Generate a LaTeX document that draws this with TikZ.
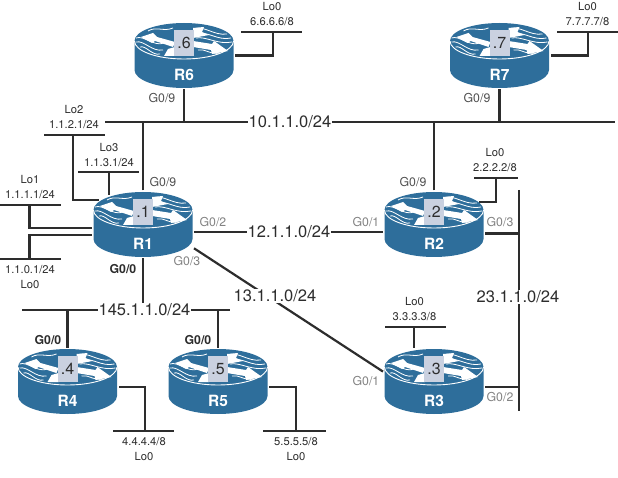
\documentclass[tikz,border=0pt]{standalone}
\usepackage{fontspec}
\setmainfont{TeX Gyre Heros}
\definecolor{routerblue}{RGB}{46,110,155}
\definecolor{addrgray}{RGB}{202,209,224}
\definecolor{linkdark}{RGB}{45,45,45}
\definecolor{portdark}{RGB}{80,80,80}
\definecolor{portlight}{RGB}{130,130,130}

% icon on top of an (invisible) router node
\newcommand{\routericon}[2]{
    \begin{scope}[shift={(#1.north)},yshift=-1.5pt]
    \fill[routerblue] (-49.5,18) -- (-49.5,47) arc[start angle=180,end angle=360,x radius=49.5pt,y radius=18pt] -- (49.5,18) arc[start angle=0,end angle=180,x radius=49.5pt,y radius=18pt] -- cycle;
    \draw[white,line width=0.9pt] (-49.5,18) arc[start angle=180,end angle=360,x radius=49.5pt,y radius=18pt];
    \draw[white,line width=0.8pt] (-36,8) .. controls (-28,3) and (-20,9) .. (-11,5);
    \draw[white,line width=0.8pt] (-48,15) .. controls (-40,12) and (-30,24) .. (-20,20);
    \draw[white,line width=0.8pt] (-48,19) .. controls (-40,17) and (-32,29) .. (-21,27);
    \draw[white,line width=0.8pt] (-44,24) .. controls (-38,22) and (-32,33) .. (-24,31);
    \draw[white,line width=0.8pt] (10,6) .. controls (20,2) and (30,13) .. (43,11);
    \draw[white,line width=0.8pt] (14,11) .. controls (24,8) and (34,18) .. (47,15);
    \draw[white,line width=0.8pt] (12,15) .. controls (22,13) and (34,22) .. (48,19);
    \draw[white,line width=0.8pt] (14,27) .. controls (20,25) and (26,32) .. (36,30);
    \fill[white] (-43,14) -- (-31,10) -- (-27,14) -- (-9,19) -- (-11,24) -- (-29,18) -- (-32,20) -- cycle;
    \fill[white] (-20,33) -- (-16,26) -- (-9,24) -- (-9,33) -- cycle;
    \fill[white] (9,5) -- (20,4) -- (18,9) -- (25,12) -- (9,15) -- cycle;
    \fill[white] (9,18) -- (28,21) -- (30,18) -- (44,28) -- (28,31) -- (27,27) -- (9,24) -- cycle;
    \node[addrbox] (#1addr) at (0,20) {#2};
    \node[routername] (#1name) at (0,52) {#1};
    \end{scope}
}

\begin{document}
\begin{tikzpicture}[x=1pt,y=-1pt,
        main/.style = {inner sep=0pt,outer sep=1.5pt,minimum width=99pt,minimum height=65pt},
        link/.style = {draw=linkdark,line width=2.2pt},
        addrbox/.style = {fill=addrgray,text=linkdark,inner sep=0pt,minimum width=20pt,minimum height=26pt,font=\fontsize{16}{16}\selectfont},
        routername/.style = {text=white,inner sep=0pt,font=\fontsize{15.5}{16}\selectfont\bfseries},
        lolabel/.style = {text=linkdark,align=center,inner sep=0pt,font=\fontsize{11.2}{15}\selectfont},
        buslabel/.style = {text=linkdark,fill=white,inner sep=1pt,font=\fontsize{16.5}{17}\selectfont},
        port/.style = {text=portdark,inner sep=0pt,font=\fontsize{12.3}{12}\selectfont},
        portlight/.style = {text=portlight,inner sep=0pt,font=\fontsize{12.3}{12}\selectfont},
        portbold/.style = {text=linkdark,inner sep=0pt,font=\fontsize{12.3}{12}\selectfont\bfseries}]
    \useasboundingbox (0,0) rectangle (618,478);

    \node[main] (R1) at (143,224.5) {};
    \node[main] (R2) at (434,224.5) {};
    \node[main] (R3) at (434,381.5) {};
    \node[main] (R4) at (67.5,381.5) {};
    \node[main] (R5) at (218,381.5) {};
    \node[main] (R6) at (184,55.5) {};
    \node[main] (R7) at (499.5,55.5) {};

    % shared segments
    \coordinate (busAa) at (105,121.7);
    \coordinate (busAb) at (615,121.7);
    \coordinate (busBa) at (22,310);
    \coordinate (busBb) at (230,310);
    \coordinate (busCa) at (519,190);
    \coordinate (busCb) at (519,411);
    \draw[link] (busAa) -- (busAb);
    \draw[link] (busBa) -- (busBb);
    \draw[link] (busCa) -- (busCb);
    \draw[link] (R6.south) -- (R6.south |- busAa);
    \draw[link] (R7.south) -- (R7.south |- busAa);
    \draw[link] (R1.north) -- (R1.north |- busAa);
    \draw[link] (R2.north) -- (R2.north |- busAa);
    \draw[link] (R1.south) -- (R1.south |- busBa);
    \draw[link] (R4.north) -- (R4.north |- busBa);
    \draw[link] (R5.north) -- (R5.north |- busBa);
    \draw[link] (R1.-8) -- (R1.-8 -| R2.west);
    \draw[link] (R1.-25) -- (R3.169);
    \draw[link] (R2.-10) -- (R2.-10 -| busCa);
    \draw[link] (R3.-6) -- (R3.-6 -| busCa);

    % loopbacks
    \coordinate (loSixa) at (241,32);
    \coordinate (loSixb) at (302,32);
    \coordinate (loSix) at (273,32);
    \draw[link] (loSixa) -- (loSixb);
    \draw[link] (loSix) |- (R6.east);
    \coordinate (loSevena) at (557,32);
    \coordinate (loSevenb) at (618,32);
    \coordinate (loSeven) at (588,32);
    \draw[link] (loSevena) -- (loSevenb);
    \draw[link] (loSeven) |- (R7.east);
    \coordinate (loTwoa) at (474,178);
    \coordinate (loTwob) at (518,178);
    \coordinate (loTwo) at (496,178);
    \draw[link] (loTwoa) -- (loTwob);
    \draw[link] (loTwo) |- ([xshift=-6pt]R2.24);
    \coordinate (loThreea) at (385,327);
    \coordinate (loThreeb) at (446,327);
    \coordinate (loThree) at (414,327);
    \draw[link] (loThreea) -- (loThreeb);
    \draw[link] (loThree) -- (loThree |- R3.north);
    \coordinate (loFoura) at (113,430.7);
    \coordinate (loFourb) at (174,430.7);
    \coordinate (loFour) at (145.3,430.7);
    \draw[link] (loFoura) -- (loFourb);
    \draw[link] (loFour) |- (R4.-6);
    \coordinate (loFivea) at (263,430.7);
    \coordinate (loFiveb) at (326,430.7);
    \coordinate (loFive) at (295.7,430.7);
    \draw[link] (loFivea) -- (loFiveb);
    \draw[link] (loFive) |- (R5.-6);
    \coordinate (rOneLoTwoa) at (44,134.7);
    \coordinate (rOneLoTwob) at (105,134.7);
    \coordinate (rOneLoTwo) at (73,134.7);
    \draw[link] (rOneLoTwoa) -- (rOneLoTwob);
    \draw[link] (rOneLoTwo) |- ([xshift=6.5pt]R1.154);
    \coordinate (rOneLoThreea) at (78,171.7);
    \coordinate (rOneLoThreeb) at (139,171.7);
    \coordinate (rOneLoThree) at (109.3,171.7);
    \draw[link] (rOneLoThreea) -- (rOneLoThreeb);
    \draw[link] (rOneLoThree) -- (rOneLoThree |- R1.150);
    \coordinate (rOneLoOnea) at (0,204.7);
    \coordinate (rOneLoOneb) at (61,204.7);
    \coordinate (rOneLoOne) at (29.5,204.7);
    \draw[link] (rOneLoOnea) -- (rOneLoOneb);
    \draw[link] (rOneLoOne) |- (R1.184);
    \coordinate (rOneLoZeroa) at (0,259);
    \coordinate (rOneLoZerob) at (61,259);
    \coordinate (rOneLoZero) at (29.5,259);
    \draw[link] (rOneLoZeroa) -- (rOneLoZerob);
    \draw[link] (rOneLoZero) |- (R1.192);

    \routericon{R1}{.1}
    \routericon{R2}{.2}
    \routericon{R3}{.3}
    \routericon{R4}{.4}
    \routericon{R5}{.5}
    \routericon{R6}{.6}
    \routericon{R7}{.7}

    \node[buslabel] (netA) at (290,121.7) {10.1.1.0/24};
    \node[buslabel] (netB) at (289,232) {12.1.1.0/24};
    \node[buslabel] (netC) at (275,296) {13.1.1.0/24};
    \node[buslabel] (netD) at (144.5,310) {145.1.1.0/24};
    \node[buslabel] (netE) at (518,297) {23.1.1.0/24};

    \node[lolabel] (txtSix) at (272,14.5) {Lo0\\6.6.6.6/8};
    \node[lolabel] (txtSeven) at (587.5,14.5) {Lo0\\7.7.7.7/8};
    \node[lolabel] (txtTwo) at (495,160.5) {Lo0\\2.2.2.2/8};
    \node[lolabel] (txtThree) at (414.5,309.5) {Lo0\\3.3.3.3/8};
    \node[lolabel] (txtFour) at (144,448.5) {4.4.4.4/8\\Lo0};
    \node[lolabel] (txtFive) at (296,448.5) {5.5.5.5/8\\Lo0};
    \node[lolabel] (txtOneA) at (74,117.5) {Lo2\\1.1.2.1/24};
    \node[lolabel] (txtOneB) at (109,155.5) {Lo3\\1.1.3.1/24};
    \node[lolabel] (txtOneC) at (30,187.5) {Lo1\\1.1.1.1/24};
    \node[lolabel] (txtOneD) at (30,277.5) {1.1.0.1/24\\Lo0};

    \node[port] (pSix) at (162,98) {G0/9};
    \node[port] (pOneA) at (163,182) {G0/9};
    \node[port] (pSeven) at (477,98) {G0/9};
    \node[port] (pTwoA) at (413,182) {G0/9};
    \node[portlight] (pOneB) at (213,222) {G0/2};
    \node[portlight] (pOneC) at (187,261) {G0/3};
    \node[portlight] (pTwoB) at (366,222) {G0/1};
    \node[portlight] (pTwoC) at (500,222) {G0/3};
    \node[portlight] (pThreeA) at (366,381) {G0/1};
    \node[portlight] (pThreeB) at (500,397) {G0/2};
    \node[portbold] (pOneD) at (123,269) {G0/0};
    \node[portbold] (pFour) at (48,340) {G0/0};
    \node[portbold] (pFive) at (198,340) {G0/0};
\end{tikzpicture}
\end{document}
